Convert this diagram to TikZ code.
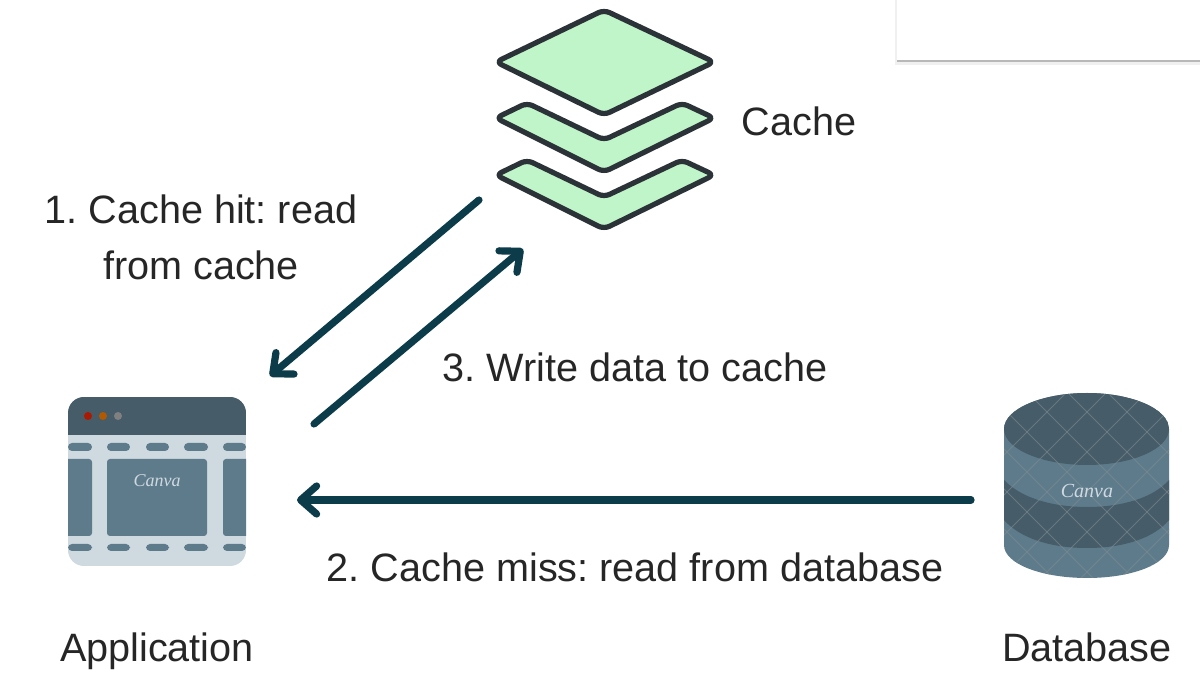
\documentclass[tikz,border=0pt]{standalone}
\usepackage{fontspec}
\setmainfont{Liberation Sans}
\newfontfamily\wmfont{Liberation Serif}
\usetikzlibrary{arrows.meta}
\definecolor{arrowcol}{HTML}{0C3B4A}
\definecolor{layerfill}{HTML}{BFF5C8}
\definecolor{layerline}{HTML}{2B3338}
\definecolor{darkslate}{HTML}{465C68}
\definecolor{midslate}{HTML}{5E7B8C}
\definecolor{lightslate}{HTML}{CFD9E0}
\definecolor{latcol}{HTML}{7F8C92}
\tikzset{
  layer/.style={draw=layerline,fill=layerfill,line width=2.6pt,rounded corners=3pt,line join=round},
  flow/.style={draw=arrowcol,line width=3.6pt,line cap=round,-{Straight Barb[round,length=8pt,width=14pt,line width=3.6pt]}},
  txt/.style={font=\fontsize{19.8}{28}\selectfont\frenchspacing,text=black!85,align=center,inner sep=0pt},
  wm/.style={font=\wmfont\itshape\fontsize{10}{12}\selectfont,text=lightslate,inner sep=0pt},
  lat/.style={draw=latcol,line width=0.4pt,opacity=0.6},
  panel/.style={fill=midslate,rounded corners=1.5pt},
  dashbar/.style={fill=midslate,rounded corners=2pt}
}
\newcommand{\lattice}{%
  \foreach \k in {-14,...,14}{
    \draw[lat] (1087+40*\k-300,412-300) -- (1087+40*\k+300,412+300);
    \draw[lat] (1087+40*\k+300,412-300) -- (1087+40*\k-300,412+300);
  }%
}
\begin{document}
\begin{tikzpicture}[x=0.5pt,y=-0.5pt]
\useasboundingbox (0,0) rectangle (1200,683);
\fill[white] (0,0) rectangle (1200,683);
% card
\fill[black!6] (895,0) rectangle (1200,65);
\fill[black!28] (897,58) rectangle (1200,62.5);
\fill[white] (897,0) rectangle (1200,60);
% layers
\draw[layer] (496,62) -- (604,10) -- (714,62) -- (604,115) -- cycle;
\draw[layer] (496,118) -- (527,103) -- (604,140) -- (682,103) -- (714,118) -- (604,172) -- cycle;
\draw[layer] (496,175) -- (527,160) -- (604,197) -- (682,160) -- (714,175) -- (604,229) -- cycle;
% application icon
\begin{scope}
\clip[rounded corners=8pt] (68,397) rectangle (246,566);
\fill[lightslate] (68,397) rectangle (246,566);
\fill[darkslate] (68,397) rectangle (246,435);
\foreach \a/\b in {68/92,107/130,146/169,184/208,223/246}{
  \fill[dashbar] (\a,443) rectangle (\b,451);
  \fill[dashbar] (\a,544) rectangle (\b,551);
}
\fill[panel] (60,459) rectangle (92,536);
\fill[panel] (107,459) rectangle (207,536);
\fill[panel] (223,459) rectangle (254,536);
\lattice
\end{scope}
\fill[red!60!black!80!orange] (88,416) circle (2pt);
\fill[orange!70!black] (103,416) circle (2pt);
\fill[gray] (118,416) circle (2pt);
\node[wm,font=\wmfont\itshape\fontsize{9}{11}\selectfont] (appmark) at (157,481) {Canva};
% database
\begin{scope}
\clip (1004,429) .. controls (1004,409) and (1042,393) .. (1087,393) .. controls (1132,393) and (1169,409) .. (1169,429) -- (1169,545)
  .. controls (1169,564) and (1132,578) .. (1087,578) .. controls (1042,578) and (1004,564) .. (1004,545) -- cycle;
\fill[midslate] (1000,385) rectangle (1175,585);
\fill[darkslate] (1004,429) .. controls (1004,409) and (1042,393) .. (1087,393) .. controls (1132,393) and (1169,409) .. (1169,429)
  .. controls (1169,449) and (1132,465) .. (1087,465) .. controls (1042,465) and (1004,449) .. (1004,429) -- cycle;
\fill[darkslate] (1004,480) .. controls (1020,497) and (1050,507) .. (1087,507) .. controls (1124,507) and (1154,497) .. (1169,480) -- (1169,520)
  .. controls (1154,538) and (1124,548) .. (1087,548) .. controls (1050,548) and (1020,538) .. (1004,520) -- cycle;
\lattice
\end{scope}
\node[wm] (dbmark) at (1087,491) {Canva};
% anchors
\coordinate (hitstart) at (479,200);
\coordinate (hitend) at (270,376);
\coordinate (writestart) at (314,424);
\coordinate (writeend) at (523,249);
\coordinate (missstart) at (971,500);
\coordinate (missend) at (297,500);
\draw[flow] (hitstart) -- (hitend);
\draw[flow] (writestart) -- (writeend);
\draw[flow] (missstart) -- (missend);
% labels
\node[txt,anchor=base] (cachel) at (799,135.5) {Cache};
\node[txt] (hitl) at (201,237) {1. Cache hit: read\\from cache};
\node[txt,anchor=base] (writel) at (635,381.5) {3. Write data to cache};
\node[txt,anchor=base] (missl) at (635,581.5) {2. Cache miss: read from database};
\node[txt,anchor=base] (appl) at (157,661.5) {Application};
\node[txt,anchor=base] (dbl) at (1087,661.5) {Database};
\end{tikzpicture}
\end{document}
